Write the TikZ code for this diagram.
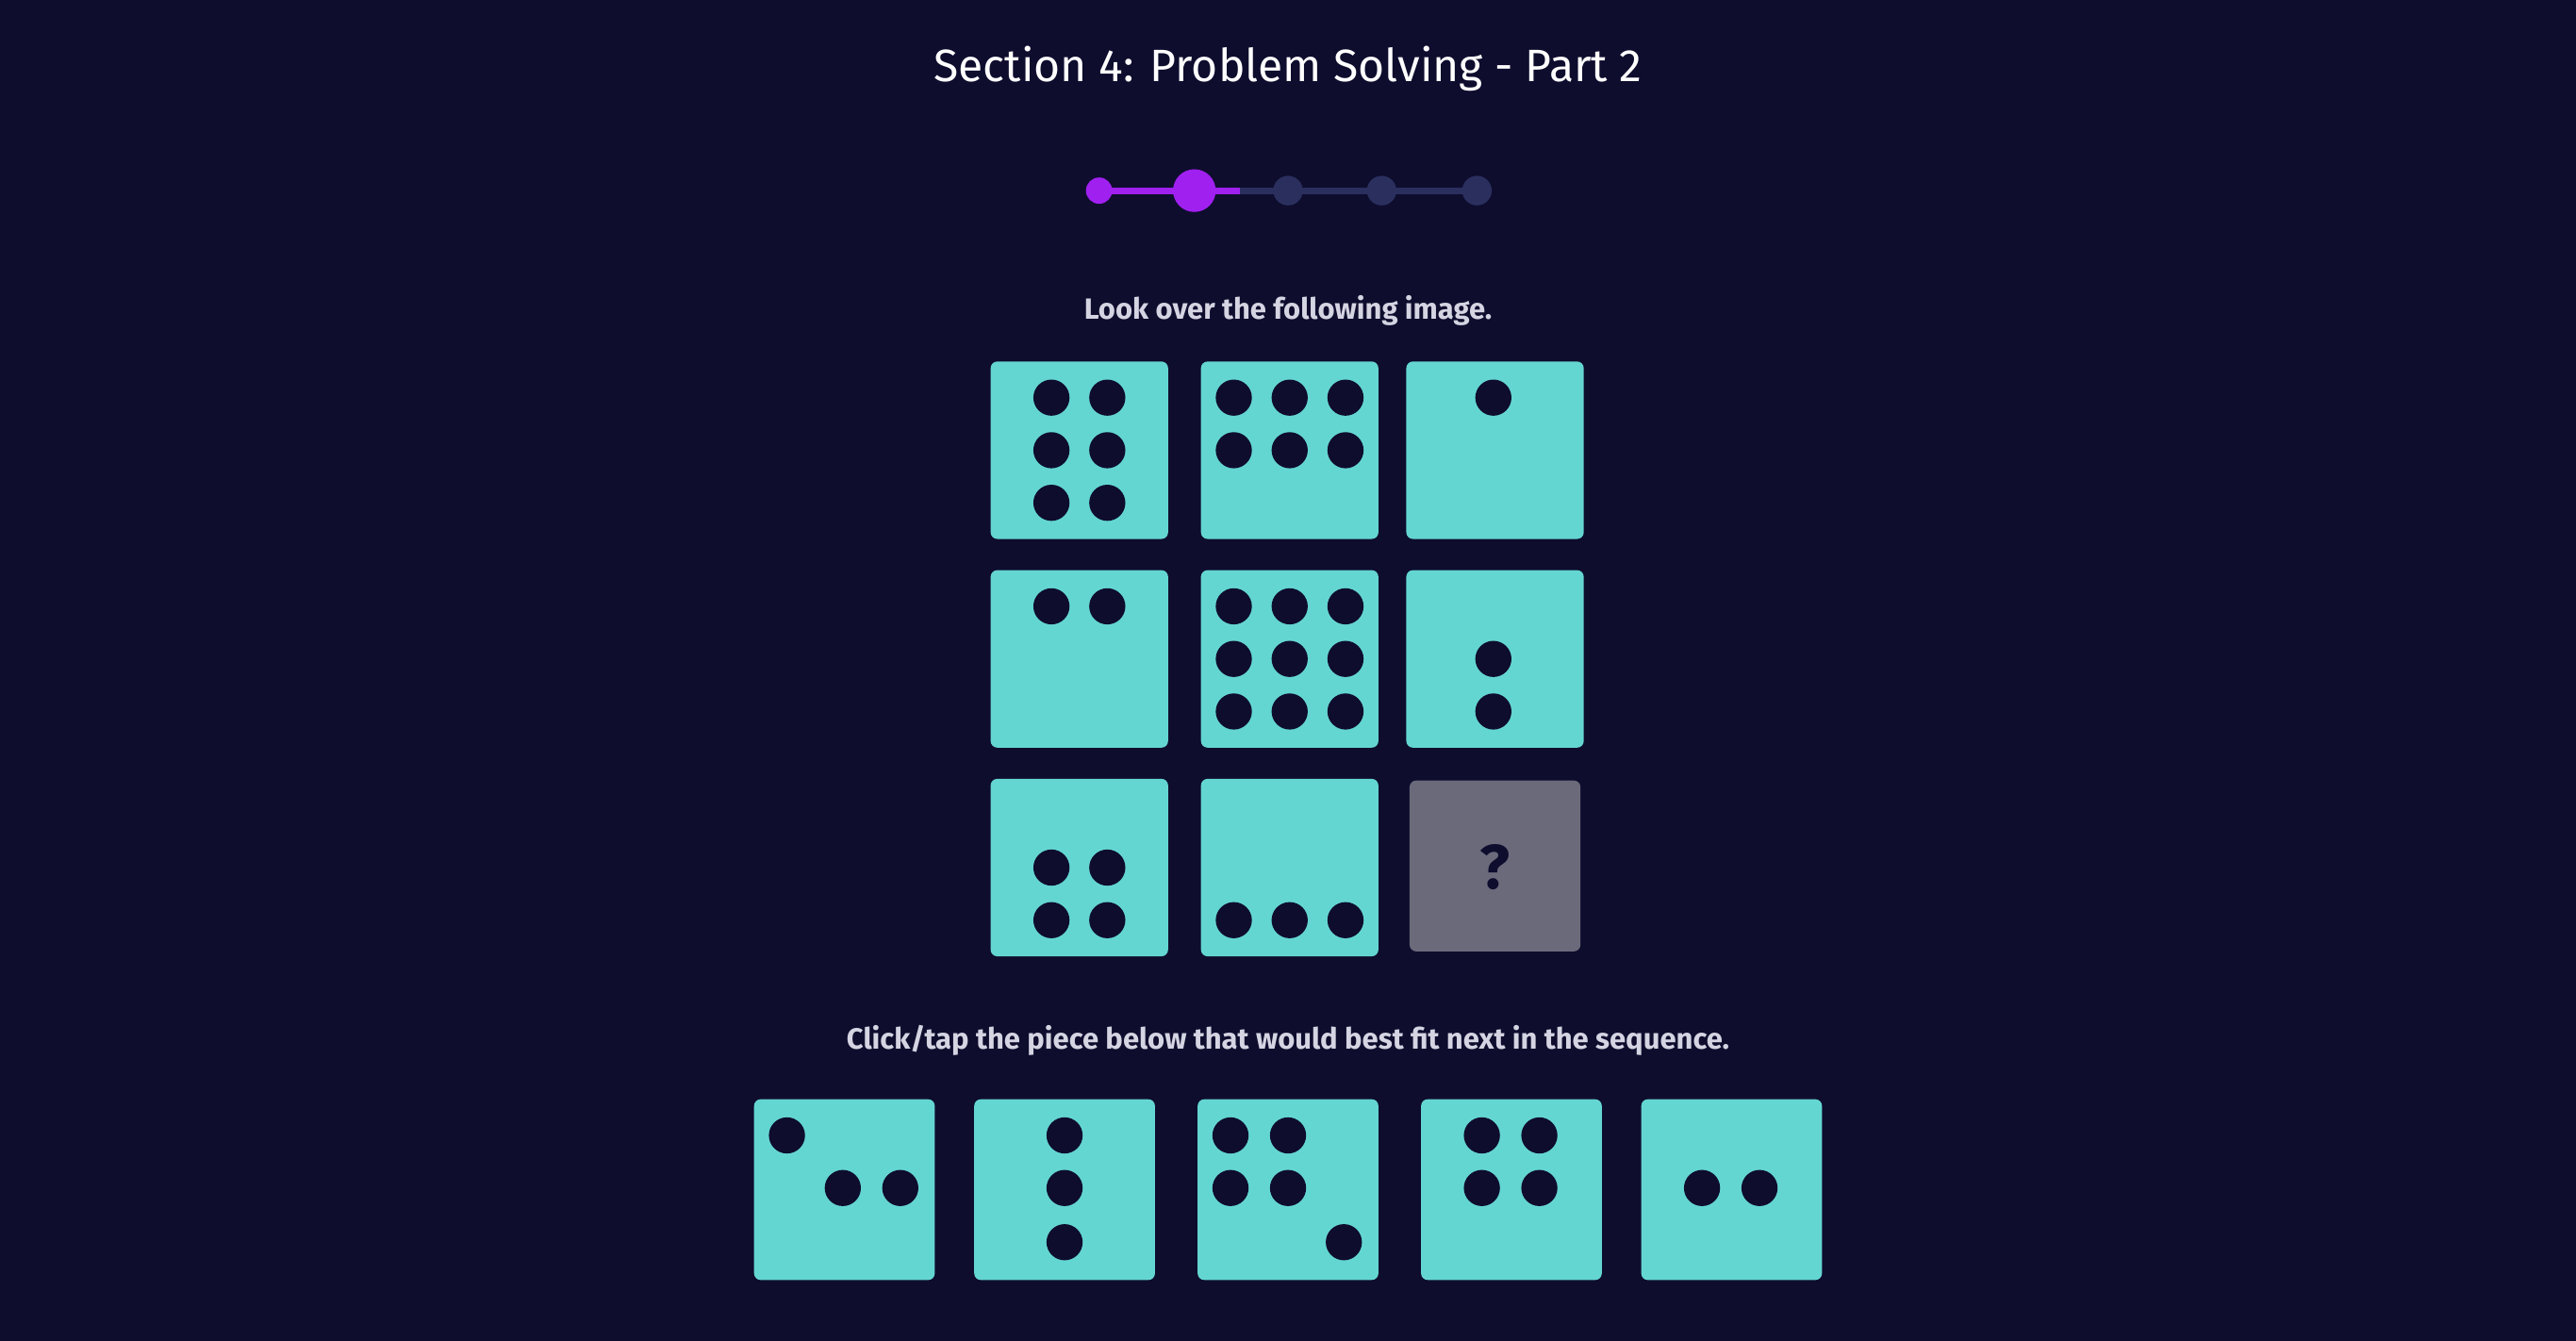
\documentclass[tikz,border=0pt]{standalone}
\usepackage{fontspec}
\setmainfont{Fira Sans}
\definecolor{bg}{HTML}{0E0D2E}
\definecolor{tile}{HTML}{64D6D2}
\definecolor{purp}{HTML}{A020F0}
\definecolor{pdark}{HTML}{2A2F5E}
\definecolor{qgray}{HTML}{6B6A7B}
\definecolor{txt}{HTML}{D4D4E2}
\begin{document}
\begin{tikzpicture}[x=0.5pt,y=-0.5pt,
  tilebox/.style={fill=tile,rounded corners=2pt},
  pip/.style={fill=bg,draw=none},
  instr/.style={text=txt,font=\fontsize{8.9}{10}\selectfont\bfseries}]
\fill[bg] (0,0) rectangle (1568,816);
\useasboundingbox (0,0) rectangle (1568,816);
\node[text=white,font=\fontsize{13.8}{16}\selectfont] (title) at (784,42) {Section 4: Problem Solving - Part 2};
% progress
\draw[pdark,line width=2pt] (755,116) -- (899,116);
\draw[purp,line width=2pt] (669,116) -- (755,116);
\fill[purp] (669,116) circle (8) (727,116) circle (13);
\fill[pdark] (784,116) circle (9) (841,116) circle (9) (899,116) circle (9);
\node[instr] (q1) at (784,189) {Look over the following image.};
\node[instr] (q2) at (784,633) {Click/tap the piece below that would best fit next in the sequence.};
\newcommand{\dtile}[4]{\fill[tilebox] (#1,#2) rectangle ++(#3,#3);
  \foreach \a/\b in {#4} {\fill[pip] (#1+\a,#2+\b) circle (11);}}
\dtile{603}{220}{108}{37/22,71/22,37/54,71/54,37/86,71/86}
\dtile{731}{220}{108}{20/22,54/22,88/22,20/54,54/54,88/54}
\dtile{856}{220}{108}{53/22}
\dtile{603}{347}{108}{37/22,71/22}
\dtile{731}{347}{108}{20/22,54/22,88/22,20/54,54/54,88/54,20/86,54/86,88/86}
\dtile{856}{347}{108}{53/54,53/86}
\dtile{603}{474}{108}{37/54,71/54,37/86,71/86}
\dtile{731}{474}{108}{20/86,54/86,88/86}
\fill[qgray,rounded corners=2pt] (858,475) rectangle (962,579);
\node[text=bg,font=\fontsize{19}{22}\selectfont\bfseries] (qm) at (910,528) {?};
\dtile{459}{669}{110}{20/22,54/54,89/54}
\dtile{593}{669}{110}{55/22,55/54,55/87}
\dtile{729}{669}{110}{20/22,55/22,20/54,55/54,89/87}
\dtile{865}{669}{110}{37/22,72/22,37/54,72/54}
\dtile{999}{669}{110}{37/54,72/54}
\end{tikzpicture}
\end{document}
